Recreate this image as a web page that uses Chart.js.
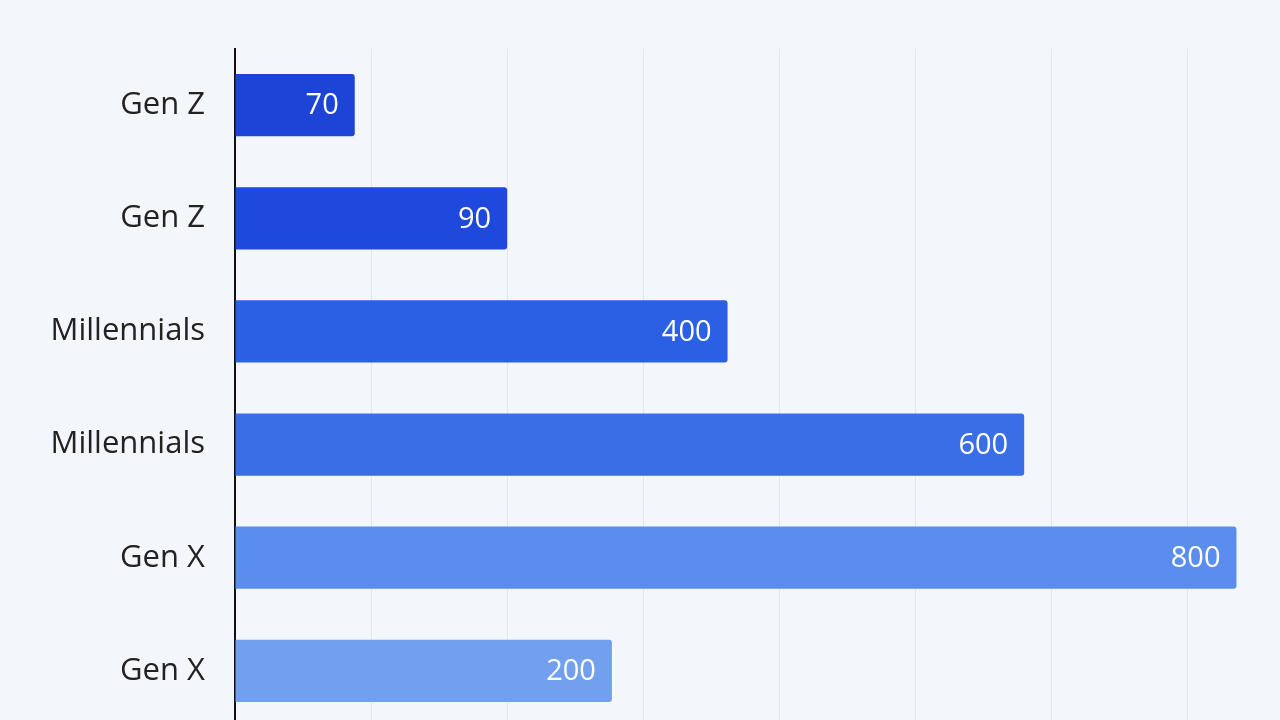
<!DOCTYPE html>
<html>
<head>
<meta charset="utf-8">
<script src="https://cdn.jsdelivr.net/npm/chart.js@4"></script>
<style>
  html, body { margin: 0; padding: 0; background: #f3f6fb; overflow: hidden; }
  #wrap { width: 1280px; height: 776px; position: relative; }
</style>
</head>
<body>
<div id="wrap"><canvas id="myBarChart"></canvas></div>
<script>
const categories = ["Gen Z", "Gen Z", "Millennials", "Millennials", "Gen X", "Gen X"];
// bar lengths as drawn (grid step = 100)
const barValues = [88, 200, 362, 580, 736, 277];
// numbers printed inside the bars
const valueLabels = ["70", "90", "400", "600", "800", "200"];
const barColors = ["#1c45d8", "#1e49dc", "#2b60e4", "#3a6ee6", "#5a8ded", "#72a0ef"];

const ctxb = document.querySelector("#myBarChart").getContext("2d");

const insideLabels = {
  id: "insideLabels",
  afterDatasetsDraw(chart) {
    const c = chart.ctx;
    const meta = chart.getDatasetMeta(0);
    c.save();
    c.fillStyle = "#ffffff";
    c.font = "29px 'Open Sans', sans-serif";
    c.textAlign = "right";
    c.textBaseline = "middle";
    meta.data.forEach((bar, i) => {
      c.fillText(valueLabels[i], bar.x - 16, bar.y + 1);
    });
    c.restore();
  },
};

const config = {
  type: "bar",
  data: {
    labels: categories,
    datasets: [
      {
        data: barValues,
        backgroundColor: barColors,
        borderRadius: 3,
        borderSkipped: "start",
        barPercentage: 0.55,
        categoryPercentage: 1,
      },
    ],
  },
  options: {
    indexAxis: "y",
    responsive: true,
    maintainAspectRatio: false,
    animation: false,
    layout: { padding: { top: 15, left: 0, right: 0, bottom: 0 } },
    scales: {
      x: {
        min: 0,
        max: 768,
        ticks: { display: false, stepSize: 100 },
        grid: { color: "#e2e6ed", drawTicks: false },
        border: { display: false },
      },
      y: {
        afterFit: (axis) => { axis.width = 235; },
        ticks: {
          color: "#222",
          font: { size: 31, family: "'Open Sans', sans-serif" },
          padding: 30,
        },
        grid: { display: false, drawTicks: false },
        border: { color: "#111", width: 2 },
      },
    },
    plugins: {
      legend: { display: false },
      tooltip: { enabled: false },
    },
  },
  plugins: [insideLabels],
};

const myChart = new Chart(ctxb, config);
</script>
</body>
</html>
